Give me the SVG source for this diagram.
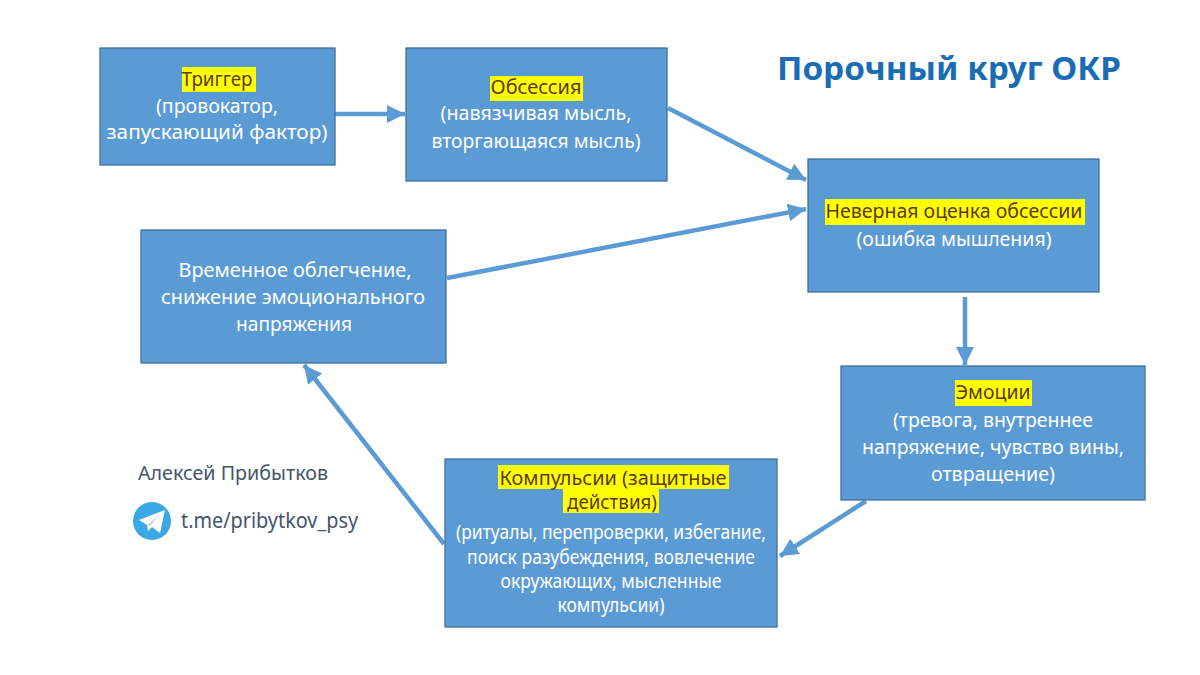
<svg xmlns="http://www.w3.org/2000/svg" width="1200" height="675" viewBox="0 0 1200 675">
<style>
.box{fill:#5B9BD5;stroke:#41719C;stroke-width:1.3}
.t{font-family:"Noto Sans","Open Sans","DejaVu Sans",sans-serif;font-size:19px;fill:#FFFFFF;text-anchor:middle}
.h{fill:#5C3A12}
.hl{fill:#FFFF00}
.c{stroke:#5B9BD5;stroke-width:4.5;fill:none;marker-end:url(#ah)}
</style>
<defs>
<marker id="ah" markerUnits="userSpaceOnUse" markerWidth="20" markerHeight="18" refX="18" refY="9" orient="auto">
<path d="M0,0 L18,9 L0,18 Z" fill="#5B9BD5"/>
</marker>
</defs>
<rect width="1200" height="675" fill="#FFFFFF"/>

<g id="connectors">
<line class="c" x1="335" y1="114" x2="405" y2="114"/>
<line class="c" x1="668" y1="108" x2="806" y2="180"/>
<line class="c" x1="447" y1="278" x2="806" y2="209"/>
<line class="c" x1="965" y1="297" x2="965" y2="365"/>
<line class="c" x1="866" y1="501" x2="780" y2="556"/>
<line class="c" x1="444" y1="544" x2="304" y2="365"/>
</g>

<g id="trigger">
<rect class="box" x="100" y="48" width="235" height="117"/>
<rect class="hl" x="182" y="67" width="74" height="25"/>
<text class="t h" x="217" y="86" textLength="71" lengthAdjust="spacingAndGlyphs">Триггер</text>
<text class="t" x="217" y="113" textLength="122" lengthAdjust="spacingAndGlyphs">(провокатор,</text>
<text class="t" x="217" y="139" textLength="221" lengthAdjust="spacingAndGlyphs">запускающий фактор)</text>
</g>

<g id="obsession">
<rect class="box" x="406" y="48" width="261" height="133"/>
<rect class="hl" x="490" y="76" width="93" height="25"/>
<text class="t h" x="536" y="94" textLength="91" lengthAdjust="spacingAndGlyphs">Обсессия</text>
<text class="t" x="536" y="120" textLength="191" lengthAdjust="spacingAndGlyphs">(навязчивая мысль,</text>
<text class="t" x="536" y="148" textLength="209" lengthAdjust="spacingAndGlyphs">вторгающаяся мысль)</text>
</g>

<g id="assessment">
<rect class="box" x="808" y="159" width="291" height="133"/>
<rect class="hl" x="825" y="199" width="260" height="26"/>
<text class="t h" x="954" y="218" textLength="257" lengthAdjust="spacingAndGlyphs">Неверная оценка обсессии</text>
<text class="t" x="954" y="246" textLength="195" lengthAdjust="spacingAndGlyphs">(ошибка мышления)</text>
</g>

<g id="emotions">
<rect class="box" x="841" y="366" width="304" height="134"/>
<rect class="hl" x="955" y="380" width="77" height="26"/>
<text class="t h" x="993" y="399" textLength="75" lengthAdjust="spacingAndGlyphs">Эмоции</text>
<text class="t" x="993" y="427" textLength="200" lengthAdjust="spacingAndGlyphs">(тревога, внутреннее</text>
<text class="t" x="993" y="454" textLength="262" lengthAdjust="spacingAndGlyphs">напряжение, чувство вины,</text>
<text class="t" x="993" y="481" textLength="124" lengthAdjust="spacingAndGlyphs">отвращение)</text>
</g>

<g id="compulsions">
<rect class="box" x="445" y="459" width="332" height="168"/>
<rect class="hl" x="498" y="465" width="231" height="24"/>
<rect class="hl" x="563" y="489" width="96" height="24"/>
<text class="t h" x="613" y="485" textLength="227" lengthAdjust="spacingAndGlyphs">Компульсии (защитные </text>
<text class="t h" x="612" y="509" textLength="90" lengthAdjust="spacingAndGlyphs">действия)</text>
<text class="t" x="611" y="539" textLength="310" lengthAdjust="spacingAndGlyphs">(ритуалы, перепроверки, избегание,</text>
<text class="t" x="611" y="564" textLength="288" lengthAdjust="spacingAndGlyphs">поиск разубеждения, вовлечение</text>
<text class="t" x="611" y="588" textLength="221" lengthAdjust="spacingAndGlyphs">окружающих, мысленные</text>
<text class="t" x="611" y="612" textLength="107" lengthAdjust="spacingAndGlyphs">компульсии)</text>
</g>

<g id="relief">
<rect class="box" x="141" y="230" width="305" height="133"/>
<text class="t" x="295" y="277" textLength="233" lengthAdjust="spacingAndGlyphs">Временное облегчение,</text>
<text class="t" x="293" y="304" textLength="264" lengthAdjust="spacingAndGlyphs">снижение эмоционального</text>
<text class="t" x="294" y="331" textLength="116" lengthAdjust="spacingAndGlyphs">напряжения</text>
</g>

<g id="title">
<text x="949" y="80" font-family="'Noto Sans','Open Sans',sans-serif" font-size="33" font-weight="bold" fill="#1A6DB4" text-anchor="middle" textLength="344" lengthAdjust="spacingAndGlyphs">Порочный круг ОКР</text>
</g>

<g id="author">
<text x="138" y="480" font-family="'Noto Sans','Open Sans',sans-serif" font-size="19" fill="#44546A" textLength="190" lengthAdjust="spacingAndGlyphs">Алексей Прибытков</text>
<circle cx="152" cy="521" r="19" fill="#3AA8E4"/>
<path d="M139,520 L165,510 L160,533 L152,527 L148,531 L147,525 Z" fill="#FFFFFF"/>
<path d="M147,525 L160,514 L150,526 Z" fill="#C8DAEA"/>
<text x="181" y="528" font-family="'Noto Sans','Open Sans',sans-serif" font-size="21" fill="#44546A" textLength="177" lengthAdjust="spacingAndGlyphs">t.me/pribytkov_psy</text>
</g>
</svg>
